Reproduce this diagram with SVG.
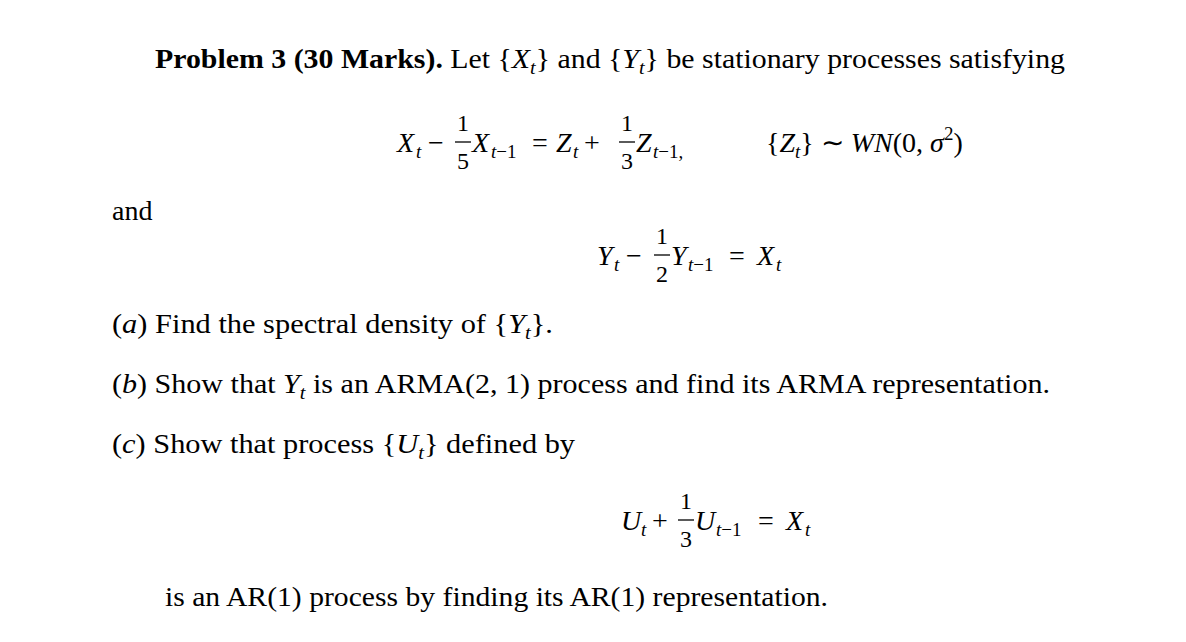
<svg xmlns="http://www.w3.org/2000/svg" width="1186" height="642" viewBox="0 0 1186 642">
<style>
text{font-family:"Liberation Serif","Times New Roman",serif;font-size:28px;fill:#000}
.i{font-style:italic}
.s{font-size:19px}
.f{font-size:24px}
line{stroke:#000;stroke-width:1.3}
</style>
<rect width="1186" height="642" fill="#fff"/>
<text x="155" y="68" textLength="910" lengthAdjust="spacingAndGlyphs"><tspan font-weight="bold">Problem 3 (30 Marks).</tspan> Let {<tspan class="i">X</tspan><tspan class="i s" dy="6">t</tspan><tspan dy="-6">} and {</tspan><tspan class="i">Y</tspan><tspan class="i s" dy="6">t</tspan><tspan dy="-6">} be stationary processes satisfying</tspan></text>
<g id="eq1">
<text x="397" y="152" class="i">X</text><text x="416" y="158" class="i s">t</text>
<text x="428" y="152">−</text>
<text x="463" y="131" class="f" text-anchor="middle">1</text><line x1="455" y1="142" x2="471" y2="142"/><text x="463" y="169" class="f" text-anchor="middle">5</text>
<text x="472" y="152" class="i">X</text><text x="491" y="158" class="s"><tspan class="i">t</tspan>−1</text>
<text x="532" y="152">=</text>
<text x="556" y="152" class="i">Z</text><text x="573" y="158" class="i s">t</text>
<text x="584" y="152">+</text>
<text x="627" y="131" class="f" text-anchor="middle">1</text><line x1="619" y1="142" x2="635" y2="142"/><text x="627" y="169" class="f" text-anchor="middle">3</text>
<text x="636" y="152" class="i">Z</text><text x="653" y="158" class="s"><tspan class="i">t</tspan>−1,</text>
<text x="766" y="152">{<tspan class="i">Z</tspan><tspan class="i s" dy="6">t</tspan><tspan dy="-6">} ∼ </tspan><tspan class="i">WN</tspan>(0, <tspan class="i">σ</tspan><tspan class="s" dy="-12">2</tspan><tspan dy="12">)</tspan></text>
</g>
<text x="112" y="220">and</text>
<g id="eq2">
<text x="597" y="265" class="i">Y</text><text x="614" y="271" class="i s">t</text>
<text x="626" y="265">−</text>
<text x="662" y="244" class="f" text-anchor="middle">1</text><line x1="654" y1="255" x2="670" y2="255"/><text x="662" y="282" class="f" text-anchor="middle">2</text>
<text x="671" y="265" class="i">Y</text><text x="688" y="271" class="s"><tspan class="i">t</tspan>−1</text>
<text x="729" y="265">=</text>
<text x="757" y="265" class="i">X</text><text x="776" y="271" class="i s">t</text>
</g>
<text x="112" y="333" textLength="441" lengthAdjust="spacingAndGlyphs">(<tspan class="i">a</tspan>)  Find the spectral density of {<tspan class="i">Y</tspan><tspan class="i s" dy="6">t</tspan><tspan dy="-6">}.</tspan></text>
<text x="112" y="393" textLength="938" lengthAdjust="spacingAndGlyphs">(<tspan class="i">b</tspan>)  Show that <tspan class="i">Y</tspan><tspan class="i s" dy="6">t</tspan><tspan dy="-6"> is an ARMA(2, 1) process and find its ARMA representation.</tspan></text>
<text x="112" y="453" textLength="463" lengthAdjust="spacingAndGlyphs">(<tspan class="i">c</tspan>)  Show that process {<tspan class="i">U</tspan><tspan class="i s" dy="6">t</tspan><tspan dy="-6">} defined by</tspan></text>
<g id="eq3">
<text x="621" y="530" class="i">U</text><text x="641" y="536" class="i s">t</text>
<text x="652" y="530">+</text>
<text x="686" y="509" class="f" text-anchor="middle">1</text><line x1="678" y1="520" x2="694" y2="520"/><text x="686" y="547" class="f" text-anchor="middle">3</text>
<text x="695" y="530" class="i">U</text><text x="716" y="536" class="s"><tspan class="i">t</tspan>−1</text>
<text x="758" y="530">=</text>
<text x="786" y="530" class="i">X</text><text x="805" y="536" class="i s">t</text>
</g>
<text x="165" y="606" textLength="663" lengthAdjust="spacingAndGlyphs">is an AR(1) process by finding its AR(1) representation.</text>
</svg>
